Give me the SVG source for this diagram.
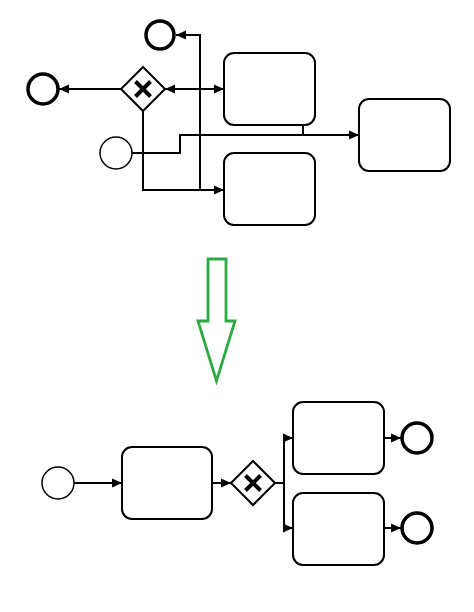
<svg xmlns="http://www.w3.org/2000/svg" width="474" height="612" viewBox="0 0 474 612">
<defs>
<marker id="arr" viewBox="0 0 10 10" refX="10" refY="5" markerWidth="10" markerHeight="10" markerUnits="userSpaceOnUse" orient="auto-start-reverse">
<path d="M0,0.5 L10,5 L0,9.5 z" fill="#000"/>
</marker>
<style>
.task{fill:#fff;stroke:#000;stroke-width:2}
.start{fill:#fff;stroke:#000;stroke-width:1.5}
.end{fill:#fff;stroke:#000;stroke-width:3.5}
.gw{fill:#fff;stroke:#000;stroke-width:2}
.xm{stroke:#000;stroke-width:4;stroke-linecap:butt}
.flow{fill:none;stroke:#000;stroke-width:2}
.flowa{fill:none;stroke:#000;stroke-width:2;marker-end:url(#arr)}
</style>
</defs>
<rect width="474" height="612" fill="#fff"/>
<g id="connectors">
<path class="flowa" d="M200,190 V35 H176"/>
<path class="flowa" d="M121,89 H59"/>
<path class="flow" d="M165,89 H224" style="marker-start:url(#arr);marker-end:url(#arr)"/>
<path d="M224,89 H303 V125" fill="none" stroke="#d8d8d8" stroke-width="1.2"/>
<path class="flow" d="M303,125 V135"/>
<path class="flowa" d="M132,153 H180 V135 H359"/>
<path class="flowa" d="M143,111 V190 H224"/>
<path class="flowa" d="M74,483 H122"/>
<path class="flowa" d="M212,483 H231"/>
<path class="flow" d="M275,483 H284"/>
<path class="flow" d="M284,438 V528"/>
<path class="flowa" d="M284,438 H293"/>
<path class="flowa" d="M284,528 H293"/>
<path class="flowa" d="M384,438 H401"/>
<path class="flowa" d="M384,528 H401"/>
</g>
<g id="endTop"><circle class="end" cx="160" cy="35" r="14"/></g>
<g id="endLeft"><circle class="end" cx="43" cy="89" r="15"/></g>
<g id="gatewayTop">
<polygon class="gw" points="143,67 165,89 143,111 121,89"/>
<path class="xm" d="M135.5,81.5 L150.5,96.5 M150.5,81.5 L135.5,96.5"/>
</g>
<g id="startTop"><circle class="start" cx="116" cy="153" r="16"/></g>
<g id="task1"><rect class="task" x="224" y="53" width="91" height="72" rx="10"/></g>
<g id="task2"><rect class="task" x="224" y="153" width="91" height="72" rx="10"/></g>
<g id="task3"><rect class="task" x="359" y="99" width="91" height="72" rx="10"/></g>
<g id="transformArrow">
<polygon points="208,259 226,259 226,321 235,321 216.5,381 198,321 208,321" fill="none" stroke="#2eaa44" stroke-width="2.8" stroke-linejoin="miter"/>
</g>
<g id="startBottom"><circle class="start" cx="58" cy="483" r="16"/></g>
<g id="taskA"><rect class="task" x="122" y="447" width="90" height="72" rx="10"/></g>
<g id="gatewayBottom">
<polygon class="gw" points="253,461 275,483 253,505 231,483"/>
<path class="xm" d="M245.5,475.5 L260.5,490.5 M260.5,475.5 L245.5,490.5"/>
</g>
<g id="taskB"><rect class="task" x="293" y="402" width="91" height="72" rx="10"/></g>
<g id="taskC"><rect class="task" x="293" y="493" width="91" height="72" rx="10"/></g>
<g id="endB"><circle class="end" cx="417" cy="438" r="15"/></g>
<g id="endC"><circle class="end" cx="417" cy="528" r="15"/></g>
</svg>
